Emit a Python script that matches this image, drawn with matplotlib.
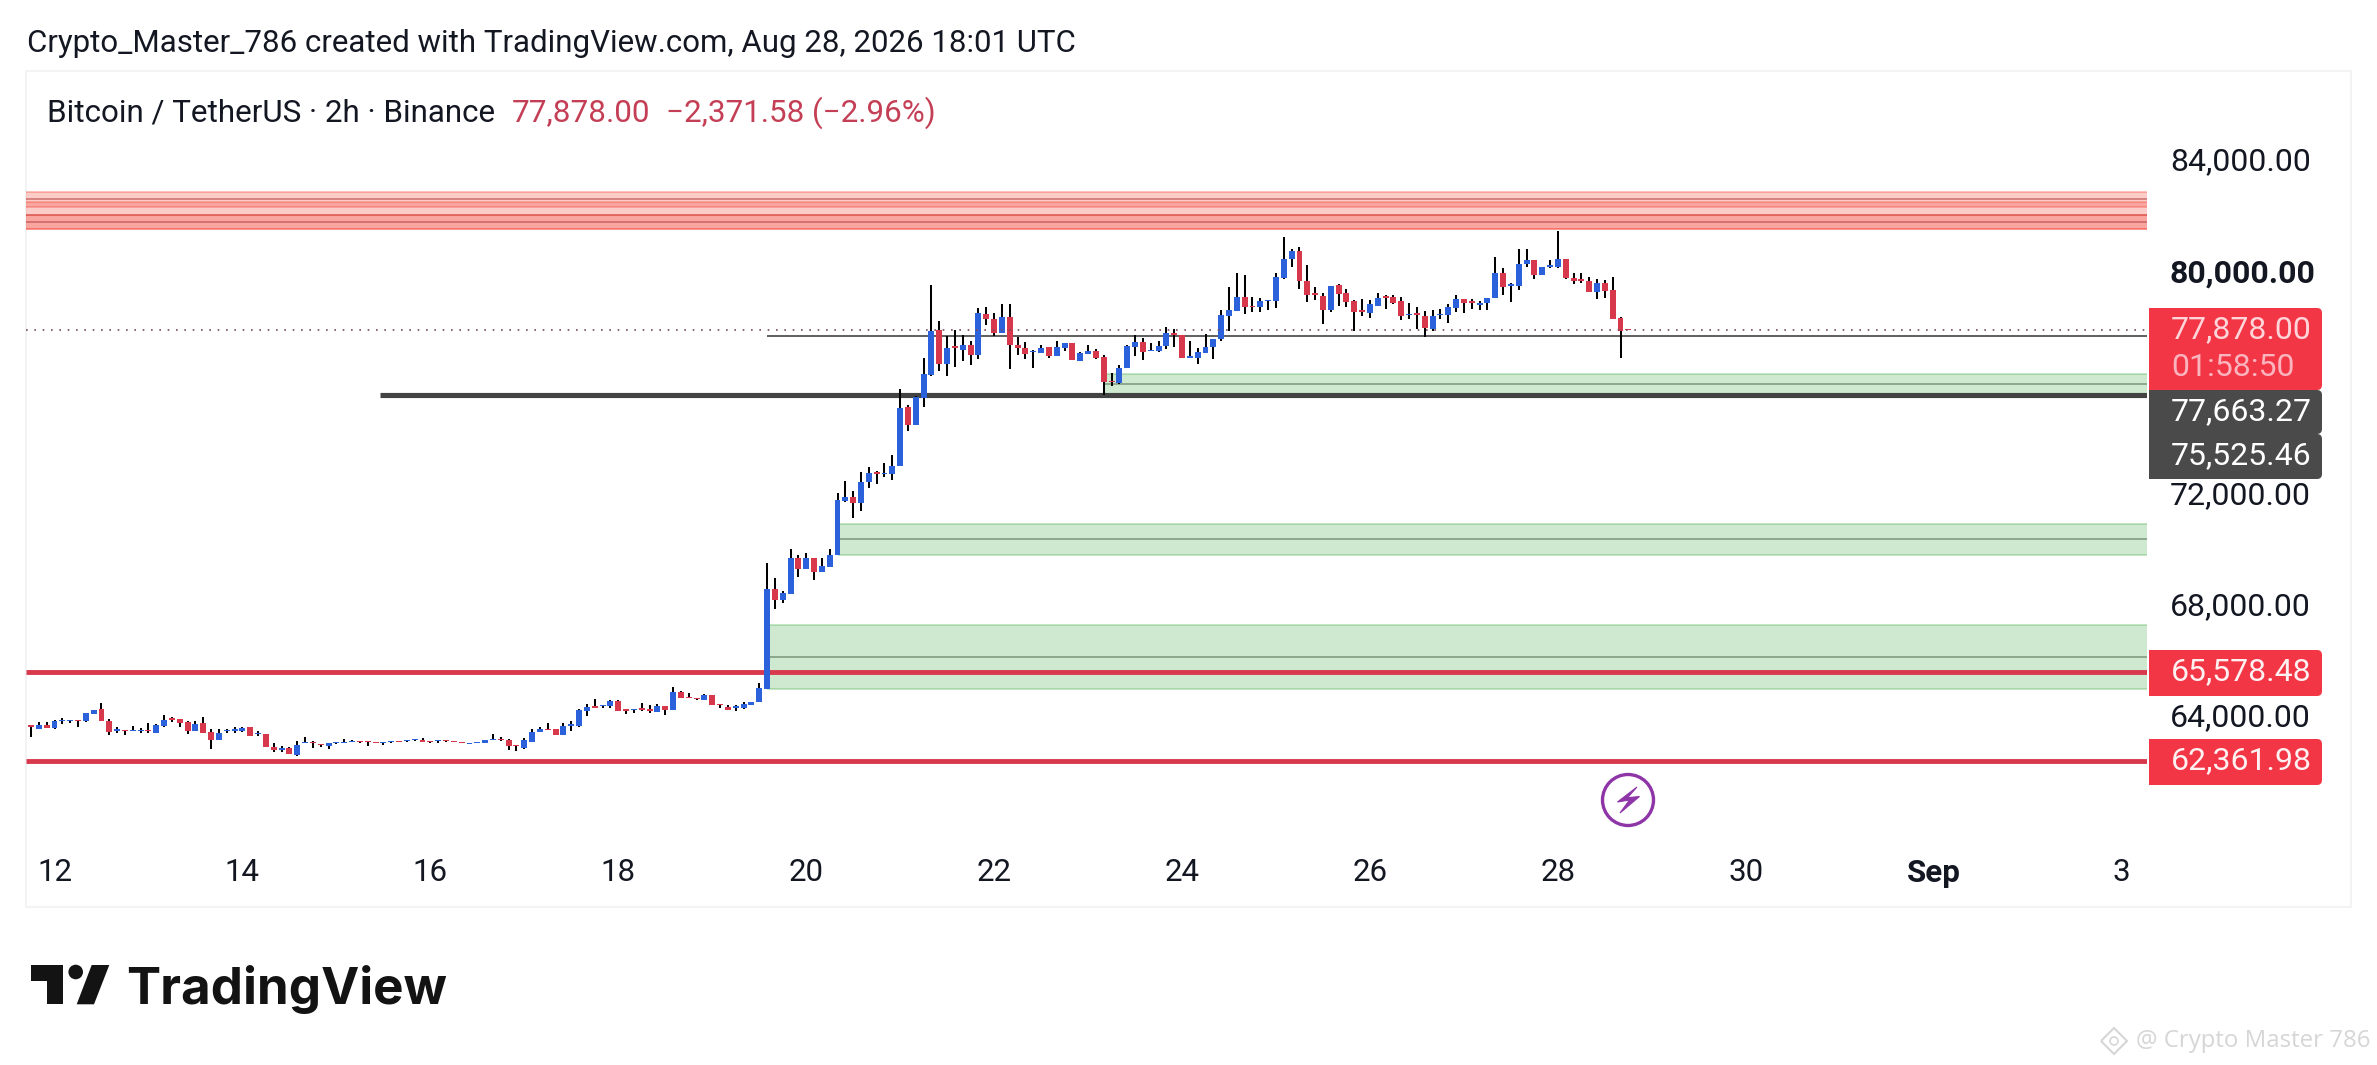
"""Recreate the BTC/USDT 2h TradingView snapshot as a PNG."""

from __future__ import annotations

import matplotlib

matplotlib.use("Agg")

import matplotlib.pyplot as plt
from matplotlib.patches import Circle, FancyBboxPatch, PathPatch, Polygon, Rectangle
from matplotlib.path import Path
from matplotlib.transforms import IdentityTransform, ScaledTranslation

WIDTH, HEIGHT = 2377, 1065

opens = [
    63638, 63506, 63650, 63530, 63782, 63794, 63842, 63794, 64058, 64214, 63806, 63446, 63482, 63446, 63434, 63482,
    63374, 63614, 63890, 63854, 63758, 63434, 63710, 63386, 63110, 63434, 63446, 63446, 63566, 63338, 63338, 62870,
    62762, 62834, 62582, 62990, 63038, 62978, 62882, 62990, 63002, 63038, 63074, 63074, 63050, 63002, 63026, 63074,
    63062, 63098, 63122, 63074, 63062, 63110, 63074, 63050, 62978, 63014, 63002, 63110, 63158, 63098, 62930, 62822,
    63050, 63410, 63518, 63494, 63290, 63614, 63602, 64142, 64322, 64322, 64322, 64514, 64214, 64178, 64250, 64214,
    64118, 64322, 64190, 64838, 64670, 64634, 64550, 64718, 64418, 64310, 64274, 64250, 64382, 64490, 64958, 68534,
    68150, 68366, 69674, 69266, 69674, 69158, 69338, 69758, 71714, 71870, 71630, 72398, 72746, 72674, 72674, 72974,
    75086, 74450, 75410, 76238, 77858, 76646, 77282, 77150, 77330, 76970, 78458, 78278, 77762, 78350, 77342, 77234,
    77078, 77054, 77246, 76946, 77222, 77390, 76766, 77018, 77114, 76886, 76046, 75962, 76502, 77258, 77450, 77114,
    77102, 77294, 77762, 77702, 76874, 76874, 77054, 77270, 77534, 78374, 78554, 79046, 78746, 78698, 78914, 78914,
    79754, 80426, 80702, 79646, 79202, 79082, 78578, 79478, 79190, 78902, 78578, 78470, 78746, 79094, 79046, 78902,
    78410, 78470, 78386, 77918, 78410, 78398, 78650, 78974, 78914, 78782, 78830, 79010, 79934, 79442, 79442, 80246,
    80402, 79850, 80150, 80150, 80438, 79754, 79694, 79634, 79238, 79550, 79298, 78290, 77900,
]
highs = [
    63638, 63746, 63746, 63818, 63890, 63842, 63842, 64094, 64202, 64454, 63878, 63566, 63482, 63626, 63530, 63710,
    63686, 63998, 63926, 63878, 63794, 63794, 63950, 63518, 63494, 63494, 63590, 63590, 63590, 63446, 63338, 62990,
    62906, 62870, 63062, 63230, 63062, 62978, 63014, 63050, 63158, 63122, 63074, 63074, 63050, 63038, 63074, 63074,
    63098, 63146, 63170, 63074, 63110, 63110, 63074, 63050, 63014, 63050, 63122, 63338, 63206, 63134, 62930, 63182,
    63494, 63566, 63710, 63518, 63734, 63782, 64214, 64394, 64574, 64370, 64550, 64538, 64238, 64226, 64430, 64358,
    64394, 64322, 65030, 64862, 64790, 64634, 64766, 64718, 64418, 64382, 64382, 64478, 64490, 65174, 69470, 68954,
    68462, 69974, 69782, 69854, 69674, 69650, 69998, 72014, 72446, 72062, 72770, 72926, 72782, 73070, 73358, 75734,
    75158, 75494, 76874, 79478, 78206, 77654, 77858, 77678, 77486, 78650, 78710, 78470, 78794, 78794, 77630, 77426,
    77150, 77342, 77246, 77486, 77414, 77414, 77078, 77342, 77198, 76982, 76310, 76610, 77342, 77702, 77594, 77414,
    77462, 77990, 77918, 77702, 77486, 77210, 77738, 77558, 78578, 79406, 79934, 79838, 79070, 79022, 78962, 79934,
    81230, 80774, 80870, 80198, 79430, 79190, 79466, 79514, 79334, 78950, 78974, 78938, 79214, 79118, 79142, 79070,
    78830, 78686, 78566, 78578, 78614, 78794, 79118, 78974, 78974, 78902, 79034, 80486, 80114, 79550, 80774, 80798,
    80402, 80150, 80378, 81422, 80438, 79934, 79934, 79790, 79718, 79670, 79790, 78350, 77900,
]
lows = [
    63218, 63506, 63542, 63506, 63698, 63734, 63578, 63770, 64058, 63794, 63302, 63374, 63302, 63434, 63374, 63374,
    63362, 63578, 63758, 63590, 63326, 63422, 63362, 62774, 63110, 63374, 63374, 63398, 63242, 63254, 62858, 62678,
    62690, 62594, 62534, 62990, 62810, 62846, 62774, 62978, 63002, 63038, 63002, 62882, 63002, 62930, 62990, 63038,
    63026, 63062, 63038, 63002, 63002, 63038, 63038, 63014, 62978, 63014, 63002, 63110, 63074, 62738, 62702, 62798,
    63038, 63398, 63470, 63290, 63290, 63422, 63578, 63962, 64262, 64250, 64250, 64154, 64034, 64082, 64154, 64082,
    64118, 64010, 64190, 64622, 64622, 64550, 64550, 64370, 64250, 64190, 64154, 64226, 64382, 64478, 64958, 67838,
    68042, 68366, 68978, 69266, 68870, 69158, 69338, 69758, 71678, 71114, 71342, 72182, 72326, 72578, 72470, 72974,
    74234, 74450, 75098, 76214, 76394, 76214, 76538, 76754, 76610, 76826, 78038, 77654, 77750, 76466, 76970, 76838,
    76502, 77030, 76862, 76946, 77126, 76790, 76742, 76994, 76838, 75542, 75854, 75926, 76502, 76934, 76790, 77114,
    77090, 77174, 77258, 76850, 76874, 76646, 77054, 76826, 77462, 77834, 78554, 78434, 78518, 78518, 78590, 78674,
    79718, 80138, 79334, 78878, 78938, 78074, 78518, 78722, 78686, 77846, 78374, 78290, 78734, 78614, 78794, 78230,
    78254, 77894, 77630, 77834, 78254, 78134, 78518, 78494, 78614, 78578, 78578, 79010, 79118, 78878, 79298, 80150,
    79694, 79850, 80102, 80114, 79718, 79514, 79550, 79226, 78974, 79010, 78266, 76862, 77878,
]
closes = [
    63590, 63650, 63542, 63782, 63830, 63830, 63794, 64070, 64202, 63794, 63386, 63494, 63434, 63482, 63470, 63434,
    63650, 63842, 63830, 63722, 63434, 63698, 63362, 63110, 63374, 63482, 63494, 63542, 63254, 63374, 62858, 62738,
    62834, 62606, 62942, 63038, 62990, 62930, 63014, 63050, 63038, 63086, 63026, 63026, 63002, 63038, 63074, 63038,
    63098, 63146, 63038, 63038, 63110, 63074, 63038, 63014, 63014, 63050, 63122, 63146, 63110, 62882, 62882, 63098,
    63410, 63518, 63470, 63290, 63602, 63674, 64190, 64298, 64262, 64370, 64502, 64154, 64154, 64226, 64190, 64154,
    64322, 64178, 64826, 64622, 64634, 64586, 64718, 64370, 64382, 64190, 64322, 64394, 64490, 64970, 68534, 68150,
    68390, 69674, 69266, 69674, 69158, 69362, 69782, 71762, 71870, 71630, 72410, 72710, 72674, 72734, 72986, 75074,
    74450, 75446, 76274, 77846, 76646, 77234, 77222, 77342, 76970, 78470, 78254, 77750, 78350, 77330, 77222, 77006,
    77126, 77234, 76934, 77246, 77390, 76790, 77030, 77114, 76862, 75998, 75986, 76502, 77282, 77450, 77090, 77162,
    77294, 77762, 77690, 76874, 76922, 77090, 77270, 77534, 78398, 78578, 79046, 78698, 78698, 78926, 78962, 79790,
    80438, 80726, 79634, 79118, 79130, 78578, 79466, 79166, 78878, 78506, 78518, 78794, 79034, 79034, 78854, 78362,
    78458, 78410, 77930, 78386, 78458, 78686, 78974, 78842, 78842, 78854, 79034, 79934, 79406, 79514, 80258, 80402,
    79850, 80150, 80222, 80438, 79742, 79634, 79634, 79238, 79550, 79274, 78266, 77834, 77878,
]

# supply/demand boxes: (first bar, top price, bottom price, middle price)
supply_starts = [0, 0, 0]
supply_tops = [82851, 82477, 81998]
supply_bottoms = [82311, 81505, 81505]
supply_mids = [82581, 81998, 81750]
demand_starts = [137, 103, 94]
demand_tops = [76274, 70899, 67249]
demand_bottoms = [75554, 69758, 64959]
demand_mids = [75914, 70335, 66110]

last_price = 77878.00
level_thin = 77663.27
level_thin_start = 94
level_thick = 75525.46
level_thick_start = 44.6
red_levels = [65578.48, 62361.98]

price_ticks = [84000, 80000, 72000, 68000, 64000]
price_tick_labels = ["84,000.00", "80,000.00", "72,000.00", "68,000.00", "64,000.00"]
day_ticks = [3, 27, 51, 75, 99, 123, 147, 171, 195, 219, 243, 267]
day_labels = ["12", "14", "16", "18", "20", "22", "24", "26", "28", "30", "Sep", "3"]

BLUE = "#2b62dc"
RED = "#d8384c"
LABEL_RED = "#f23645"
LABEL_DARK = "#4a4a4a"
LEGEND_RED = "#c43f55"
ZONE_RED = "#f44336"
ZONE_GREEN = "#4caf50"


def fig_xy(x: float, y: float) -> tuple[float, float]:
    return x / WIDTH, 1 - y / HEIGHT


def px_text(fig, x, y, text, **kwargs):
    kwargs.setdefault("va", "center")
    kwargs.setdefault("color", "#131722")
    fig.text(*fig_xy(x, y), text, **kwargs)


def draw_candles(ax) -> None:
    for i, (o, h, l, c) in enumerate(zip(opens, highs, lows, closes)):
        ax.vlines(i, l, h, color="black", linewidth=1.45, zorder=6)
        color = BLUE if c >= o else RED
        ax.bar(i, abs(c - o), bottom=min(o, c), width=0.76, color=color, linewidth=0, zorder=7)


def draw_zone(ax, start, top, bottom, mid, color, x_end, alpha) -> None:
    ax.fill_between([start, x_end], bottom, top, color=color, alpha=alpha, linewidth=0, zorder=2)
    ax.hlines([top, bottom], start, x_end, color=color, alpha=alpha + 0.15, linewidth=1.1, zorder=2)
    ax.hlines(mid, start, x_end, color="#4a6a4a" if color == ZONE_GREEN else "#b03a3a", alpha=0.5, linewidth=1.4, zorder=2)


def price_box(fig, top, bottom, color) -> None:
    left, right = 2149, 2322
    fig.add_artist(
        FancyBboxPatch(
            (left + 6, HEIGHT - bottom + 4), right - left - 10, bottom - top - 8,
            boxstyle="round,pad=4,rounding_size=5", transform=IdentityTransform(),
            facecolor=color, edgecolor="none", zorder=1,
        )
    )
    fig.add_artist(
        Rectangle((left, HEIGHT - bottom), 40, bottom - top, transform=IdentityTransform(),
                  facecolor=color, edgecolor="none", zorder=1)
    )


def draw_flash_icon(fig) -> None:
    cx, cy = 1628, HEIGHT - 800
    purple = "#8e35a8"
    fig.add_artist(Circle((cx, cy), 25.5, transform=IdentityTransform(), fill=False, edgecolor=purple, linewidth=2.4))
    bolt = [(9, 13), (-10.5, -2), (1.5, 0), (-8, -13), (11.5, 3.5), (-0.5, 2.3)]
    fig.add_artist(Polygon([(cx + dx, cy + dy) for dx, dy in bolt], closed=True, transform=IdentityTransform(),
                           facecolor=purple, edgecolor=purple, linewidth=0.8))


def draw_logo(fig) -> None:
    ink = "#131313"
    stem = [(31, 965), (63.3, 965), (63.3, 1004.3), (46.7, 1004.3), (46.7, 980.7), (31, 980.7)]
    slash = [(91.7, 965), (109.3, 965), (94, 1004.3), (76.7, 1004.3)]
    for points in (stem, slash):
        fig.add_artist(Polygon([(x, HEIGHT - y) for x, y in points], closed=True, transform=IdentityTransform(),
                               facecolor=ink, edgecolor="none"))
    fig.add_artist(Circle((75.7, HEIGHT - 972), 7.3, transform=IdentityTransform(), facecolor=ink, edgecolor="none"))
    px_text(fig, 126, 1004.3, "TradingView", family="Inter", fontsize=36.8, fontweight="bold", color=ink,
            va="baseline", ha="left")


def draw_watermark(fig) -> None:
    grey = "#d6d6d6"
    px_text(fig, 2136, 1041, "@ Crypto Master 786", family="Open Sans", fontsize=17.3, color=grey)
    cx, cy = 2114, HEIGHT - 1041
    diamond = Path([(cx - 13, cy), (cx, cy + 13), (cx + 13, cy), (cx, cy - 13), (cx - 13, cy)])
    fig.add_artist(PathPatch(diamond, transform=IdentityTransform(), fill=False, edgecolor=grey, linewidth=1.5))
    fig.add_artist(Circle((cx, cy), 4, transform=IdentityTransform(), fill=False, edgecolor=grey, linewidth=1.2))


def main() -> None:
    plt.rcParams["font.family"] = ["Roboto", "DejaVu Sans"]
    fig = plt.figure(figsize=(WIDTH / 100, HEIGHT / 100), dpi=100, facecolor="white")

    fig.add_artist(Rectangle((25.5, HEIGHT - 907), 2351 - 25.5, 907 - 71, transform=IdentityTransform(),
                             facecolor="white", edgecolor="#f0f1f3", linewidth=1.2, zorder=-1))

    ax = fig.add_axes([26 / WIDTH, 1 - 850 / HEIGHT, (2147 - 26) / WIDTH, (850 - 72) / HEIGHT])
    ax.set_facecolor("none")
    ax.set_xlim(-0.64, 270.24)
    ax.set_ylim(59154, 87162)
    for spine in ax.spines.values():
        spine.set_visible(False)

    x_start, x_end = ax.get_xlim()
    for start, top, bottom, mid in zip(supply_starts, supply_tops, supply_bottoms, supply_mids):
        draw_zone(ax, x_start + start, top, bottom, mid, ZONE_RED, x_end, 0.27)
    for start, top, bottom, mid in zip(demand_starts, demand_tops, demand_bottoms, demand_mids):
        draw_zone(ax, start, top, bottom, mid, ZONE_GREEN, x_end, 0.27)

    ax.hlines(red_levels, x_start, x_end, color=RED, linewidth=3.5, zorder=3)
    ax.hlines(level_thick, level_thick_start, x_end, color="#434343", linewidth=3.7, zorder=3)
    ax.hlines(level_thin, level_thin_start, x_end, color="#434343", linewidth=1.2, zorder=3)
    ax.hlines(last_price, x_start, x_end, color="#7a4a5a", linewidth=1.2, linestyle=(0, (1, 4)), zorder=8)

    draw_candles(ax)

    ax.yaxis.tick_right()
    ax.set_yticks(price_ticks, price_tick_labels)
    ax.tick_params(axis="y", length=0, pad=16.5, labelsize=23, labelcolor="#131722")
    ax.get_yticklabels()[1].set_fontweight("bold")
    # the labels sit a little above the grid position in the reference
    nudge = ScaledTranslation(0, 0.6 / 72, fig.dpi_scale_trans)
    for label in ax.get_yticklabels():
        label.set_transform(label.get_transform() + nudge)
    ax.set_xticks(day_ticks, day_labels)
    ax.tick_params(axis="x", length=0, pad=5.5, labelsize=22.5, labelcolor="#131722")
    ax.get_xticklabels()[10].set_fontweight("bold")

    px_text(fig, 27, 43, "Crypto_Master_786 created with TradingView.com, Aug 28, 2026 18:01 UTC", fontsize=22.5)
    px_text(fig, 47, 113, "Bitcoin / TetherUS · 2h · Binance", fontsize=22.6)
    px_text(fig, 512, 113, "77,878.00", fontsize=22.7, color=LEGEND_RED)
    px_text(fig, 666, 113, "−2,371.58 (−2.96%)", fontsize=22.6, color=LEGEND_RED)

    price_box(fig, 308, 390, LABEL_RED)
    price_box(fig, 390, 434, LABEL_DARK)
    price_box(fig, 434, 479, LABEL_DARK)
    price_box(fig, 650, 696, LABEL_RED)
    price_box(fig, 739, 785, LABEL_RED)
    px_text(fig, 2171, 330, "77,878.00", fontsize=23, color="#ffd5da")
    px_text(fig, 2171, 367, "01:58:50", fontsize=23, color="#fbb4bd")
    px_text(fig, 2171, 412, "77,663.27", fontsize=23, color="white")
    px_text(fig, 2171, 456, "75,525.46", fontsize=23, color="white")
    px_text(fig, 2171, 672, "65,578.48", fontsize=23, color="#fff0f1")
    px_text(fig, 2171, 761, "62,361.98", fontsize=23, color="#fff0f1")

    draw_flash_icon(fig)
    draw_logo(fig)
    draw_watermark(fig)

    fig.savefig("out.png", dpi=100, facecolor="white")


if __name__ == "__main__":
    main()
